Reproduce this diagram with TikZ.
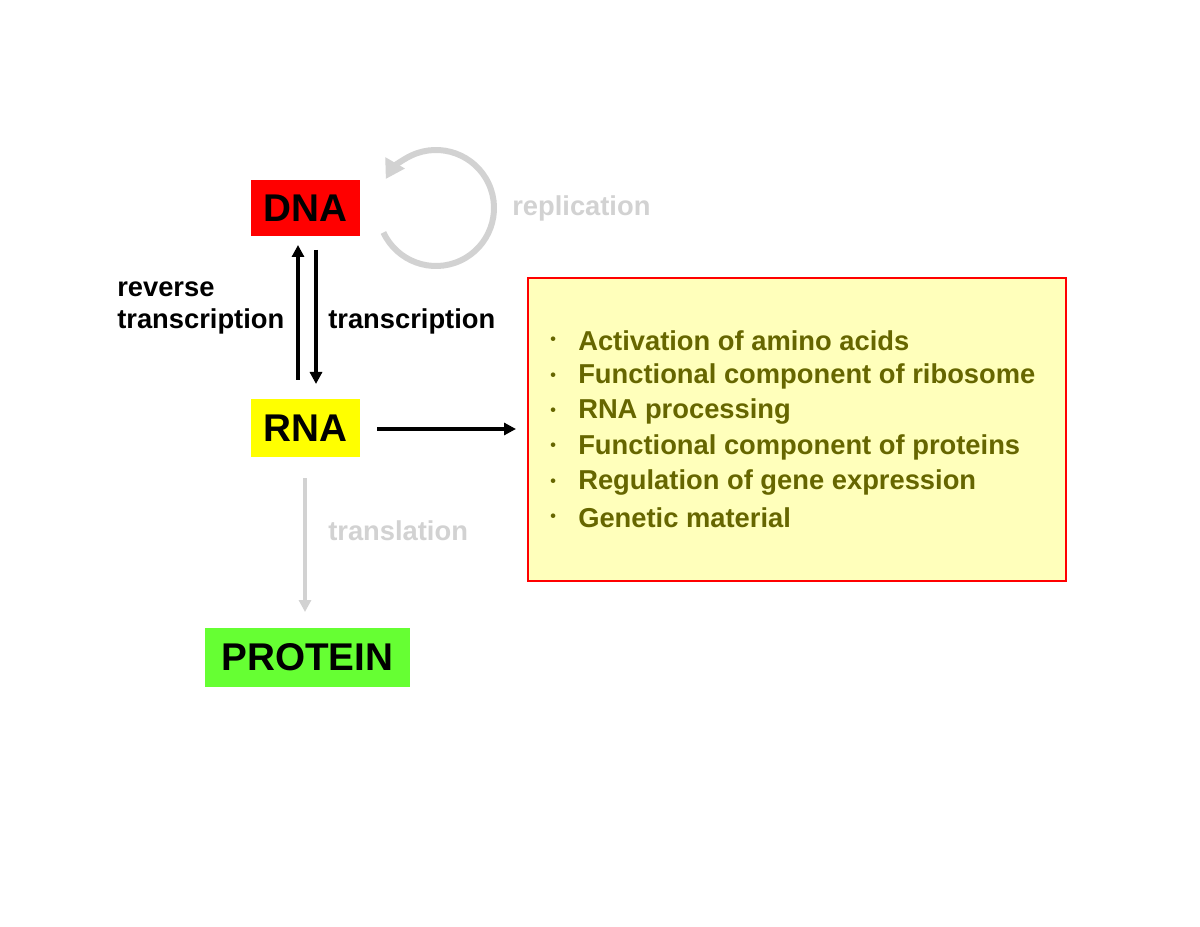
\documentclass[tikz,border=0pt]{standalone}
\usepackage{fontspec}
\setmainfont{Liberation Sans}
\usetikzlibrary{arrows.meta,calc}
\definecolor{dnared}{RGB}{255,0,0}
\definecolor{rnayel}{RGB}{255,255,0}
\definecolor{protgreen}{RGB}{102,255,51}
\definecolor{boxyel}{RGB}{255,255,187}
\definecolor{olive}{RGB}{102,102,0}
\definecolor{lgray}{RGB}{210,210,210}
\begin{document}
\begin{tikzpicture}[x=0.75pt,y=-0.75pt,
  mol/.style={draw=none,inner sep=0,font=\bfseries\fontsize{29}{33}\selectfont},
  lab/.style={font=\bfseries\fontsize{20.5}{24}\selectfont,anchor=west,inner sep=0},
  glab/.style={lab,text=lgray},
  blk/.style={line width=3pt,-{Triangle[length=9pt,width=9pt]}},
  gry/.style={line width=3pt,lgray,-{Triangle[length=9pt,width=9pt]}},
  item/.style={font=\bfseries\fontsize{20.5}{24}\selectfont,text=olive,anchor=west,inner sep=0}]
\useasboundingbox (0,0) rectangle (1200,927);
\fill[white] (0,0) rectangle (1200,927);
\fill[dnared] (251,180) rectangle (360,236);
\node[mol] (dna) at (305.5,208) {DNA};
\fill[rnayel] (251,399) rectangle (360,457);
\node[mol] (rna) at (305.5,428) {RNA};
\fill[protgreen] (205,628) rectangle (410,687);
\node[mol] (prot) at (307.5,657) {PROTEIN};
% replication
\coordinate (rc) at (436,208);
\draw[line width=4.5pt,lgray,-{Triangle[length=14pt,width=16pt]}] ($(rc)+(-205:58)$) arc[start angle=-205,end angle=-510,radius=58];
\node[glab] (rep) at (512,208) {replication};
% transcription arrows
\coordinate (ua) at (298,380); \coordinate (ub) at (298,245);
\coordinate (da) at (316,250); \coordinate (db) at (316,384);
\draw[blk] (ua) -- (ub);
\draw[blk] (da) -- (db);
\node[lab] (rev1) at (117,289) {reverse};
\node[lab] (rev2) at (117,321) {transcription};
\node[lab] (tr) at (328,321) {transcription};
% box
\draw[dnared,fill=boxyel,line width=1.5pt] (528,278) rectangle (1066,581);
\coordinate (bw) at (516,429);
\coordinate (ra) at (377,429);
\draw[blk] (ra) -- (bw);
\foreach \t [count=\i] in {Activation of amino acids,Functional component of ribosome,RNA processing,Functional component of proteins,Regulation of gene expression,Genetic material}{
  \node[item,font=\bfseries\fontsize{12}{14}\selectfont] (b\i) at (550,{341+35.4*(\i-1)}) {\textbullet};
  \node[item] (t\i) at (578,{341+35.4*(\i-1)}) {\t};
}
% translation
\coordinate (ta) at (305,478); \coordinate (tb) at (305,612);
\draw[gry] (ta) -- (tb);
\node[glab] (tl) at (328,531) {translation};
\end{tikzpicture}
\end{document}
